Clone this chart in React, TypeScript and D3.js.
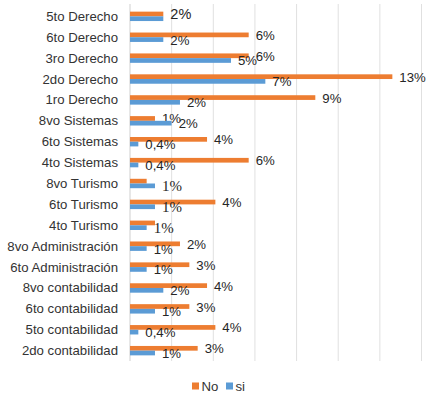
import React, { useRef, useEffect } from 'react';
import * as d3 from 'd3';

// categories top to bottom
const categories = [
  '5to Derecho',
  '6to Derecho',
  '3ro Derecho',
  '2do Derecho',
  '1ro Derecho',
  '8vo Sistemas',
  '6to Sistemas',
  '4to Sistemas',
  '8vo Turismo',
  '6to Turismo',
  '4to Turismo',
  '8vo Administración',
  '6to Administración',
  '8vo contabilidad',
  '6to contabilidad',
  '5to contabilidad',
  '2do contabilidad',
];

const series = ['No', 'si'];

// values in percent
const noValues = [1.6, 5.7, 5.7, 12.6, 8.9, 1.2, 3.7, 5.7, 0.8, 4.1, 1.2, 2.4, 2.85, 3.7, 2.85, 4.1, 3.25];
const siValues = [1.6, 1.6, 4.85, 6.5, 2.4, 2.0, 0.4, 0.4, 1.2, 1.2, 0.8, 0.8, 0.8, 1.6, 1.2, 0.4, 1.2];

// data labels as printed ('' = none shown)
const noLabels = ['2%', '6%', '6%', '13%', '9%', '1%', '4%', '6%', '', '4%', '', '2%', '3%', '4%', '3%', '4%', '3%'];
const siLabels = ['', '2%', '5%', '7%', '2%', '2%', '0,4%', '0,4%', '1%', '1%', '1%', '1%', '1%', '2%', '1%', '0,4%', '1%'];

const xTicks = [0, 2, 4, 6, 8, 10, 12, 14];

const colors: Record<string, string> = { No: '#ED7D31', si: '#5B9BD5' };

// labels that appear in a serif face in the original (series-index pairs)
const serifLabels = new Set(['si-8', 'si-9', 'si-10']);

const App = () => {
  const Svg = useRef<SVGSVGElement>(null);

  useEffect(() => {
    const width = 433;
    const height = 401;
    const left = 130;
    const right = 421.5;

    const svg = d3.select(Svg.current).attr('width', width).attr('height', height);
    svg.selectAll('*').remove();

    const xScale = d3.scaleLinear().domain([0, 14]).range([left, right]);
    const yScale = d3
      .scaleBand<string>()
      .domain(categories)
      .range([6, 361])
      .paddingInner(0.55)
      .paddingOuter(0.27);
    const inner = d3.scaleBand<string>().domain(series).range([0, yScale.bandwidth()]);

    // gridlines
    svg
      .append('g')
      .selectAll('line')
      .data(xTicks)
      .enter()
      .append('line')
      .attr('x1', (d) => xScale(d))
      .attr('x2', (d) => xScale(d))
      .attr('y1', 4)
      .attr('y2', 361)
      .attr('stroke', (d) => (d === 0 ? '#cfcfcf' : '#e0e0e0'))
      .attr('stroke-width', 1);

    const fontSans = "Arial, 'Liberation Sans', sans-serif";
    const fontSerif = "'Times New Roman', 'Liberation Serif', serif";

    // category labels
    svg
      .append('g')
      .selectAll('text')
      .data(categories)
      .enter()
      .append('text')
      .text((d) => d)
      .attr('x', 118)
      .attr('y', (d) => (yScale(d) as number) + yScale.bandwidth() / 2)
      .attr('text-anchor', 'end')
      .attr('dominant-baseline', 'central')
      .attr('font-family', fontSans)
      .attr('font-size', 13.2)
      .attr('fill', '#333');

    const seriesData: Record<string, { values: number[]; labels: string[] }> = {
      No: { values: noValues, labels: noLabels },
      si: { values: siValues, labels: siLabels },
    };

    series.forEach((s) => {
      const rows = categories.map((c, i) => ({
        c,
        i,
        v: seriesData[s].values[i],
        label: seriesData[s].labels[i],
      }));
      const g = svg.append('g');
      g.selectAll('rect')
        .data(rows)
        .enter()
        .append('rect')
        .attr('x', xScale(0))
        .attr('y', (d) => (yScale(d.c) as number) + (inner(s) as number))
        .attr('width', (d) => xScale(d.v) - xScale(0))
        .attr('height', inner.bandwidth())
        .attr('fill', colors[s]);

      g.selectAll('text')
        .data(rows.filter((d) => d.label !== ''))
        .enter()
        .append('text')
        .text((d) => d.label)
        .attr('x', (d) => xScale(d.v) + 7)
        .attr('y', (d) => (yScale(d.c) as number) + (inner(s) as number) + inner.bandwidth() / 2 + 0.5)
        .attr('dominant-baseline', 'central')
        .attr('font-family', (d) => (serifLabels.has(`${s}-${d.i}`) ? fontSerif : fontSans))
        .attr('font-size', (d) => (serifLabels.has(`${s}-${d.i}`) ? 15 : d.i === 0 ? 14.5 : 13.2))
        .attr('fill', '#262626');
    });

    // legend
    const legend = svg.append('g').attr('transform', 'translate(192, 386)');
    const legendX = [0, 34];
    series.forEach((s, i) => {
      legend
        .append('rect')
        .attr('x', legendX[i])
        .attr('y', -3.5)
        .attr('width', 7)
        .attr('height', 7)
        .attr('fill', colors[s]);
      legend
        .append('text')
        .text(s)
        .attr('x', legendX[i] + 9.5)
        .attr('y', 0)
        .attr('dominant-baseline', 'central')
        .attr('font-family', fontSans)
        .attr('font-size', 13.2)
        .attr('fill', '#333');
    });
  }, []);

  return <svg ref={Svg} style={{ position: 'absolute', left: 0, top: 0, background: '#fff' }} />;
};

export default App;
